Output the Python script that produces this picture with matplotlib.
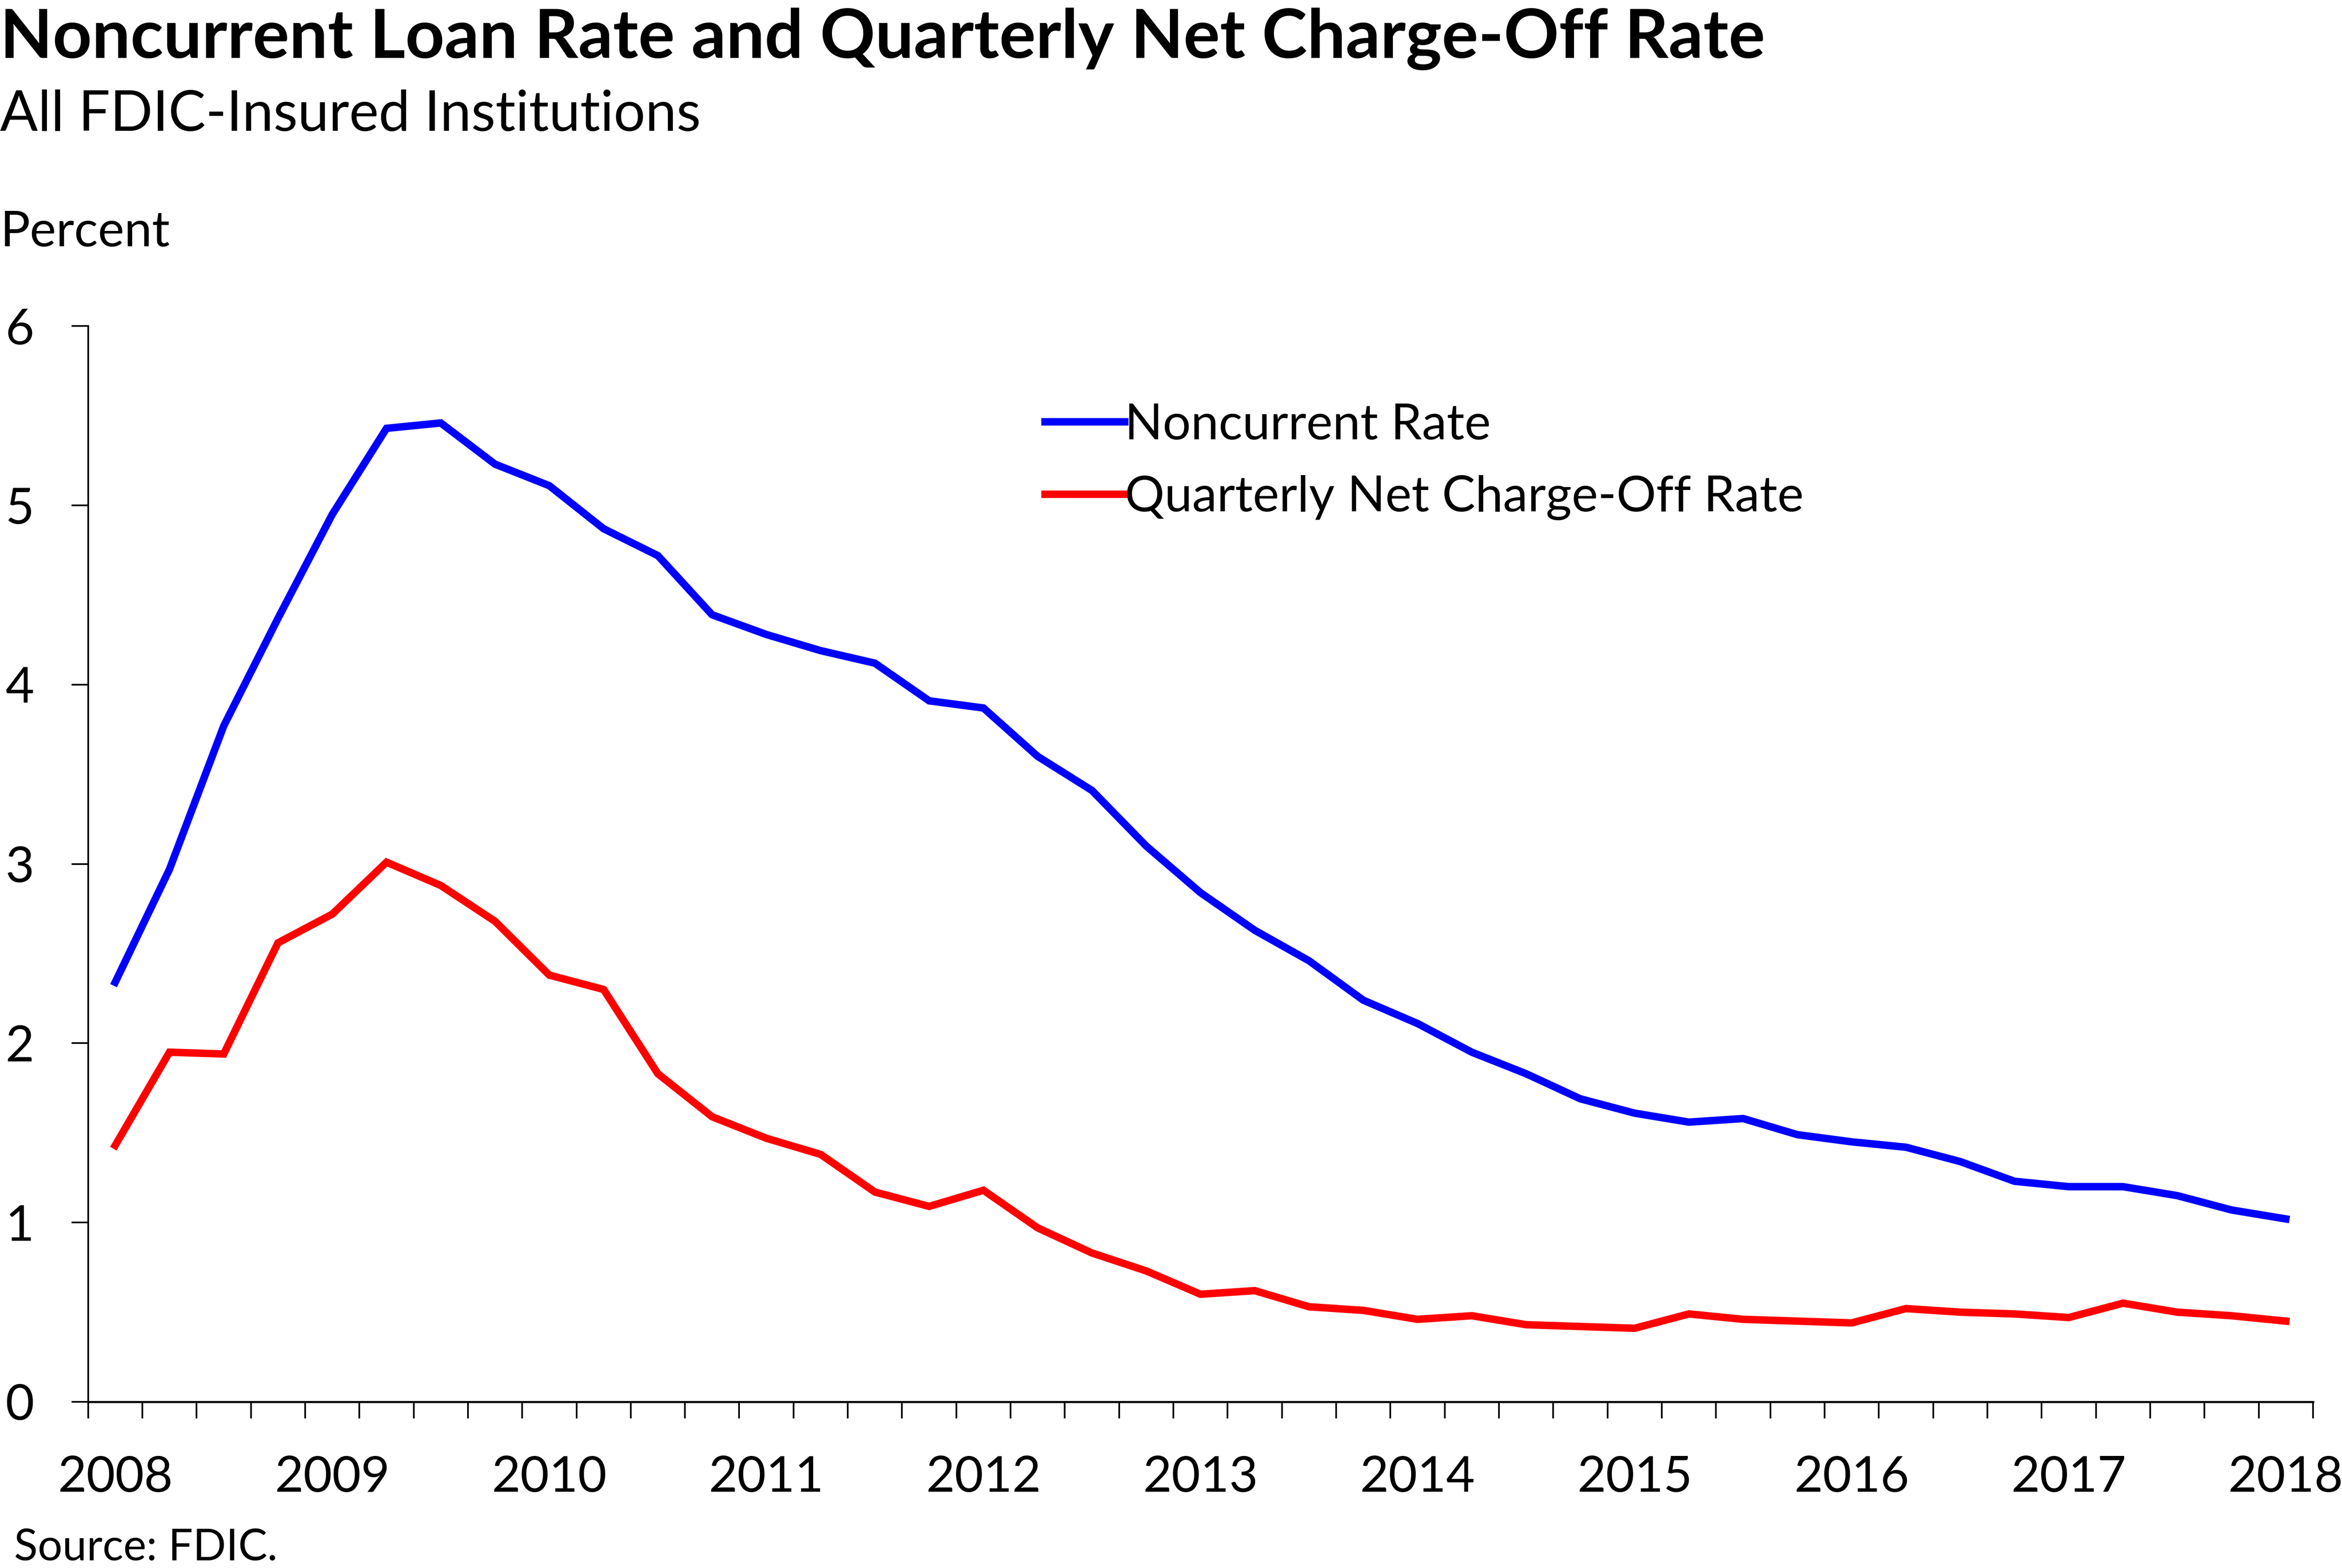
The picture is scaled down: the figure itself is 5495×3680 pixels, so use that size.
import matplotlib
matplotlib.use("Agg")
import matplotlib.pyplot as plt
import numpy as np

plt.rcParams['font.family'] = ['Lato', 'DejaVu Sans']

# quarterly, 2008 Q1 .. 2018 Q1
noncurrent = [2.34, 2.97, 3.77, 4.37, 4.95, 5.43, 5.46, 5.23, 5.11, 4.87,
              4.72, 4.39, 4.28, 4.19, 4.12, 3.91, 3.87, 3.60, 3.41, 3.10,
              2.84, 2.63, 2.46, 2.24, 2.11, 1.95, 1.83, 1.69, 1.61, 1.56,
              1.58, 1.49, 1.45, 1.42, 1.34, 1.23, 1.20, 1.20, 1.15, 1.07, 1.02]
chargeoff = [1.43, 1.95, 1.94, 2.56, 2.72, 3.01, 2.88, 2.68, 2.38, 2.30,
             1.83, 1.59, 1.47, 1.38, 1.17, 1.09, 1.18, 0.97, 0.83, 0.73,
             0.60, 0.62, 0.53, 0.51, 0.46, 0.48, 0.43, 0.42, 0.41, 0.49,
             0.46, 0.45, 0.44, 0.52, 0.50, 0.49, 0.47, 0.55, 0.50, 0.48, 0.45]
years = [str(y) for y in range(2008, 2019)]

x = np.arange(len(noncurrent))

fig = plt.figure(figsize=(5495 / 350, 3680 / 350), dpi=350)
ax = fig.add_axes([0.0376, 0.106, 0.950, 0.686])

ax.plot(x, noncurrent, color='#0000FF', lw=3.6, label='Noncurrent Rate',
        solid_joinstyle='miter')
ax.plot(x, chargeoff, color='#FF0000', lw=3.6, label='Quarterly Net Charge-Off Rate',
        solid_joinstyle='miter')

ax.set_xlim(-0.5, 40.5)
ax.set_ylim(0, 6)
ax.set_yticks(range(0, 7))
ax.set_xticks(x[::4])
ax.set_xticklabels(years)
ax.set_xticks(np.arange(-0.5, 41, 1), minor=True)
ax.tick_params(axis='x', which='major', length=0, pad=26, labelsize=24)
ax.tick_params(axis='x', which='minor', length=8, width=0.8, direction='out')
ax.tick_params(axis='y', length=8, width=0.8, labelsize=24, pad=18)
for s in ['top', 'right']:
    ax.spines[s].set_visible(False)
ax.spines['left'].set_linewidth(0.8)
ax.spines['bottom'].set_linewidth(1.0)

ax.legend(loc='upper left', bbox_to_anchor=(0.41, 0.97), frameon=False,
          fontsize=24, handlelength=1.6, handletextpad=0.0, labelspacing=0.55)

fig.text(0.0, 0.995, 'Noncurrent Loan Rate and Quarterly Net Charge-Off Rate',
         fontsize=33, fontweight='bold', va='top', ha='left')
fig.text(0.0, 0.943, 'All FDIC-Insured Institutions', fontsize=27, va='top', ha='left')
fig.text(0.0, 0.866, 'Percent', fontsize=24, va='top', ha='left')
fig.text(0.006, 0.0, 'Source: FDIC.', fontsize=21, va='bottom', ha='left')

fig.savefig('out.png', dpi=350)
